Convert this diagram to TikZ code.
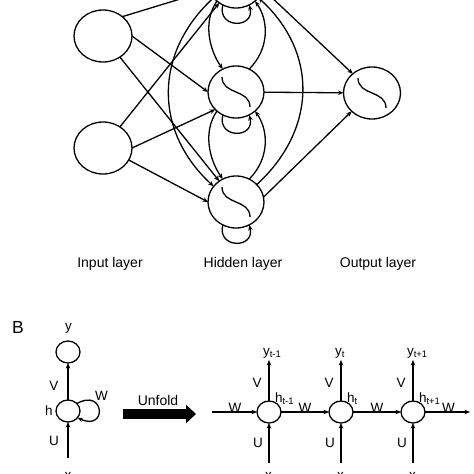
\documentclass[tikz,border=0pt]{standalone}
\usepackage{fontspec}
\setmainfont{Liberation Sans}
\usetikzlibrary{shapes.geometric,arrows.meta,calc}

\tikzset{
  neuron/.style={draw, ellipse, minimum width=58pt, minimum height=52pt},
  cell/.style={draw, ellipse, minimum width=24pt, minimum height=22pt},
  wire/.style={-{Stealth[length=5.5pt,width=4.5pt]}},
  lbl/.style={font=\fontsize{13.5}{15}\selectfont},
  ttl/.style={font=\fontsize{14}{16}\selectfont},
}

\begin{document}
\begin{tikzpicture}[y=1pt,x=1pt,yscale=-1, inner sep=0pt, outer sep=0pt, line width=1.3pt]
  \useasboundingbox (0,0) rectangle (474,474);
  \clip (0,0) rectangle (474,474);
  % A: layered network
  \node[neuron] (in1) at (103,36) {};
  \node[neuron] (in2) at (103,148) {};
  \node[neuron,minimum width=56pt] (hid1) at (236,-18) {};
  \node[neuron,minimum width=56pt] (hid2) at (236,92) {};
  \node[neuron,minimum width=56pt] (hid3) at (236,202) {};
  \node[neuron,minimum width=57pt] (out) at (372,93) {};
  \foreach \n in {hid1,hid2,hid3,out}
    \draw ($(\n.center)+(-14,-15)$) .. controls +(0,18) and +(0,-18) .. ($(\n.center)+(14,15)$);
  \draw[wire] (in1.45) -- (hid1);
  \draw[wire] (in1.east) -- (hid2.west);
  \draw[wire] (in1) -- (hid3);
  \draw[wire] (in2) -- (hid1);
  \draw[wire] (in2.east) -- (hid2.220);
  \draw[wire] (in2.-25) -- (hid3.west);
  % recurrent links in the hidden layer
  \foreach \a/\b in {hid1/hid2,hid2/hid3} {
    \draw[wire] (\a.225) .. controls +(-14,20) and +(-14,-20) .. (\b.120);
    \draw[wire] (\b.60) .. controls +(20,-20) and +(14,20) .. (\a.-45);
  }
  \foreach \n in {hid1,hid2,hid3}
    \draw[wire] (\n.240) .. controls +(-6,24) and +(6,24) .. (\n.300);
  \draw[wire] (hid1.215) .. controls +(-60,55) and +(-60,-55) .. (hid3.145);
  \draw[wire] (hid3.40) .. controls +(60,-55) and +(60,55) .. (hid1.-35);
  \draw[wire] (hid1.-15) -- (out.135);
  \draw[wire] (hid2) -- (out);
  \draw[wire] (hid3.10) -- (out.222);
  \node[ttl] (linput) at (110,264) {Input layer};
  \node[ttl] (lhidden) at (243,264) {Hidden layer};
  \node[ttl] (loutput) at (378,264) {Output layer};

  % B: folded and unfolded RNN
  \node[font=\fontsize{17.5}{20}\selectfont] (lb) at (18,327) {B};
  \node[cell] (fy) at (68,352) {};
  \node[cell] (fh) at (68,411) {};
  \coordinate (fx) at (68,458);
  \draw[wire] (fh) -- (fy);
  \draw[wire] (fx) -- (fh);
  \draw[wire] (fh.40) .. controls +(28,-16) and +(30,14) .. (fh.-35);
  \node[lbl] (ly) at (68.5,328) {y};
  \node[lbl] (lv) at (54,386) {V};
  \node[lbl] (lh) at (49,411) {h};
  \node[lbl] (lw) at (101.5,396) {W};
  \node[lbl] (lu) at (54,441) {U};
  \node[lbl,anchor=base] (lx) at (68,479) {x};

  \coordinate (ufa) at (123,414);
  \coordinate (ufb) at (196,414);
  \draw[line width=10pt,-{Triangle[length=10pt,width=18pt]}] (ufa) -- (ufb);
  \node[ttl] (lunfold) at (158,400) {Unfold};

  \foreach \i/\x/\s in {1/269/t-1,2/341/t,3/413/t+1} {
    \node[cell] (h\i) at (\x,412) {};
    \coordinate (yt\i) at (\x,360);
    \coordinate (xt\i) at (\x,463);
    \draw[wire] (h\i) -- (yt\i);
    \draw[wire] (xt\i) -- (h\i);
    \node[lbl,anchor=base west] (ly\i) at (\x-6,355) {y\textsubscript{\s}};
    \node[lbl] (lv\i) at (\x-12,383) {V};
    \node[lbl] (lu\i) at (\x-11,443) {U};
    \node[lbl,anchor=base west] (lh\i) at (\x+6,402) {h\textsubscript{\s}};
    \node[lbl,anchor=base west] (lx\i) at (\x-4,479) {x\textsubscript{\s}};
  }
  \coordinate (win) at (212,412);
  \coordinate (wout) at (470,412);
  \draw[wire] (win) -- (h1);
  \draw[wire] (h1) -- (h2);
  \draw[wire] (h2) -- (h3);
  \draw[wire] (h3) -- (wout);
  \node[lbl] (lw0) at (235,408) {W};
  \node[lbl] (lw1) at (305,408) {W};
  \node[lbl] (lw2) at (377,408) {W};
  \node[lbl] (lw3) at (448.5,408) {W};
\end{tikzpicture}
\end{document}
